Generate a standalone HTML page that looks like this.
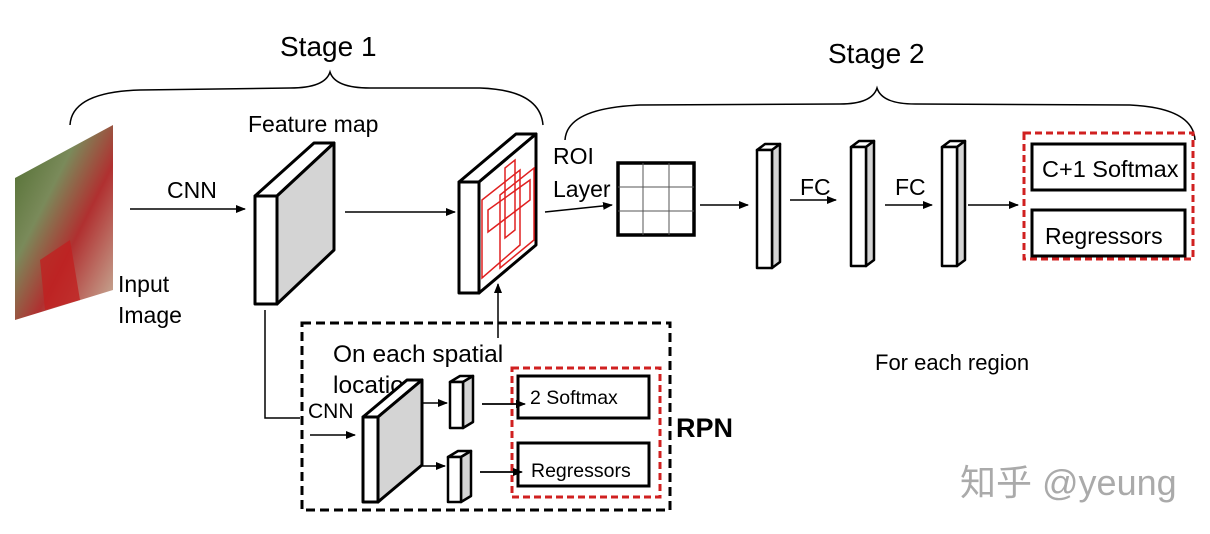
<!DOCTYPE html>
<html><head><meta charset="utf-8"><style>
body{margin:0;background:#fff;}
svg{display:block;font-family:"Liberation Sans","Noto Sans CJK SC",sans-serif;}
</style></head><body>
<svg width="1210" height="534" viewBox="0 0 1210 534" xmlns="http://www.w3.org/2000/svg">
<defs>
<marker id="a" markerWidth="10" markerHeight="8" refX="9" refY="4" orient="auto" markerUnits="userSpaceOnUse"><path d="M0,0 L10,4 L0,8 z" fill="#000"/></marker>
<linearGradient id="img" x1="0" y1="0" x2="1" y2="1">
<stop offset="0" stop-color="#4a6a2a"/><stop offset="0.35" stop-color="#7a8a5a"/><stop offset="0.6" stop-color="#b03030"/><stop offset="1" stop-color="#c8b8a0"/></linearGradient>
</defs>
<g fill="none" stroke="#000" stroke-width="1.5">
<path d="M70,125 Q72,92 140,90 L290,88 Q325,88 330,72 Q335,88 370,88 L480,88 Q540,90 543,125"/>
<path d="M565,140 Q567,108 640,105 L840,104 Q872,104 877,88 Q882,104 915,104 L1130,105 Q1193,108 1195,140"/>
</g>
<text x="280" y="56" font-size="28">Stage 1</text>
<text x="828" y="63" font-size="28">Stage 2</text>
<polygon points="15,178 113,125 113,290 15,320" fill="url(#img)"/>
<polygon points="40,260 70,240 80,300 45,310" fill="#c02020" opacity="0.8"/>
<text x="248" y="132" font-size="23">Feature map</text>
<text x="167" y="198" font-size="23">CNN</text>
<text x="118" y="292" font-size="23">Input</text>
<text x="118" y="323" font-size="23">Image</text>
<g stroke="#000" stroke-width="1.5" fill="none">
<line x1="130" y1="209" x2="245" y2="209" marker-end="url(#a)"/>
<line x1="345" y1="212" x2="455" y2="212" marker-end="url(#a)"/>
<line x1="545" y1="212" x2="612" y2="205" marker-end="url(#a)"/>
<line x1="700" y1="205" x2="748" y2="205" marker-end="url(#a)"/>
<line x1="790" y1="200" x2="836" y2="200" marker-end="url(#a)"/>
<line x1="885" y1="205" x2="932" y2="205" marker-end="url(#a)"/>
<line x1="968" y1="205" x2="1018" y2="205" marker-end="url(#a)"/>
<polyline points="265,310 265,418 300,418"/>
<line x1="310" y1="435" x2="355" y2="435" marker-end="url(#a)"/>
<line x1="498" y1="338" x2="498" y2="284" marker-end="url(#a)"/>
<line x1="404" y1="403" x2="447" y2="403" marker-end="url(#a)"/>
<line x1="402" y1="466" x2="445" y2="466" marker-end="url(#a)"/>
<line x1="482" y1="404" x2="525" y2="404" marker-end="url(#a)"/>
<line x1="480" y1="472" x2="522" y2="472" marker-end="url(#a)"/>
</g>
<g stroke="#000" stroke-width="3" stroke-linejoin="round">
<polygon points="255,196 314,143 334,143 277,196" fill="#fff"/>
<polygon points="277,196 334,143 334,250 277,304" fill="#d4d4d4"/>
<rect x="255" y="196" width="22" height="108" fill="#fff"/>
<polygon points="459,182 516,134 536,134 479,182" fill="#fff"/>
<polygon points="479,182 536,134 536,245 479,293" fill="#fff"/>
<rect x="459" y="182" width="20" height="111" fill="#fff"/>
</g>
<g stroke="#e02020" stroke-width="1.5" fill="none">
<polygon points="482,200 520,170 520,245 482,278"/>
<polygon points="505,168 515,160 515,230 505,238"/>
<polygon points="488,210 530,180 530,200 488,232"/>
<polygon points="500,195 534,168 534,240 500,268"/>
</g>
<text x="553" y="164" font-size="23">ROI</text>
<text x="553" y="197" font-size="23">Layer</text>
<rect x="618" y="163" width="76" height="72" fill="#fff" stroke="#000" stroke-width="3.5"/>
<g stroke="#555" stroke-width="1"><line x1="643" y1="163" x2="643" y2="235"/><line x1="669" y1="163" x2="669" y2="235"/><line x1="618" y1="187" x2="694" y2="187"/><line x1="618" y1="211" x2="694" y2="211"/></g>
<g stroke="#000" stroke-width="2.5" stroke-linejoin="round">
<polygon points="757,150 765,144 780,144 772,150" fill="#fff"/><polygon points="772,150 780,144 780,262 772,268" fill="#d4d4d4"/><rect x="757" y="150" width="15" height="118" fill="#fff"/>
<polygon points="851,147 859,141 874,141 866,147" fill="#fff"/><polygon points="866,147 874,141 874,260 866,266" fill="#d4d4d4"/><rect x="851" y="147" width="15" height="119" fill="#fff"/>
<polygon points="942,147 950,141 965,141 957,147" fill="#fff"/><polygon points="957,147 965,141 965,260 957,266" fill="#d4d4d4"/><rect x="942" y="147" width="15" height="119" fill="#fff"/>
</g>
<text x="800" y="195" font-size="23">FC</text>
<text x="895" y="195" font-size="23">FC</text>
<rect x="1024" y="133" width="169" height="126" fill="none" stroke="#d02020" stroke-width="3" stroke-dasharray="7,4"/>
<rect x="1032" y="144" width="153" height="46" fill="#fff" stroke="#000" stroke-width="3"/>
<rect x="1032" y="210" width="153" height="46" fill="#fff" stroke="#000" stroke-width="3"/>
<text x="1042" y="177" font-size="23.5">C+1 Softmax</text>
<text x="1045" y="244" font-size="23">Regressors</text>
<text x="875" y="370" font-size="22">For each region</text>
<rect x="302" y="323" width="368" height="187" fill="none" stroke="#000" stroke-width="3" stroke-dasharray="9,5"/>
<text x="333" y="362" font-size="24.5">On each spatial</text>
<text x="333" y="393" font-size="24.5">location</text>
<text x="308" y="418" font-size="21">CNN</text>
<g stroke="#000" stroke-width="3" stroke-linejoin="round">
<polygon points="363,417 407,380 422,380 378,417" fill="#fff"/>
<polygon points="378,417 422,380 422,465 378,502" fill="#d4d4d4"/>
<rect x="363" y="417" width="15" height="85" fill="#fff"/>
</g>
<g stroke="#000" stroke-width="2.5" stroke-linejoin="round">
<polygon points="450,382 460,376 473,376 463,382" fill="#fff"/><polygon points="463,382 473,376 473,422 463,428" fill="#d4d4d4"/><rect x="450" y="382" width="13" height="46" fill="#fff"/>
<polygon points="448,457 458,451 471,451 461,457" fill="#fff"/><polygon points="461,457 471,451 471,496 461,502" fill="#d4d4d4"/><rect x="448" y="457" width="13" height="45" fill="#fff"/>
</g>
<rect x="512" y="368" width="148" height="129" fill="none" stroke="#d02020" stroke-width="3" stroke-dasharray="7,4"/>
<rect x="518" y="376" width="131" height="42" fill="#fff" stroke="#000" stroke-width="3"/>
<rect x="518" y="443" width="131" height="43" fill="#fff" stroke="#000" stroke-width="3"/>
<line x1="482" y1="404" x2="525" y2="404" stroke="#000" stroke-width="1.5" marker-end="url(#a)"/>
<line x1="480" y1="472" x2="522" y2="472" stroke="#000" stroke-width="1.5" marker-end="url(#a)"/>
<text x="530" y="404" font-size="19.5">2 Softmax</text>
<text x="531" y="477" font-size="19.5">Regressors</text>
<text x="676" y="437" font-size="27" font-weight="bold">RPN</text>
<text x="960" y="495" font-size="36" fill="#aaa">知乎 @yeung</text>
</svg>
</body></html>
